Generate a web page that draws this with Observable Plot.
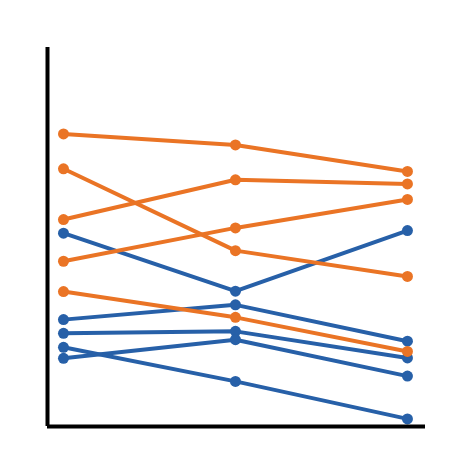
<!DOCTYPE html>
<html>
<head>
<meta charset="utf-8">
<script src="https://cdn.jsdelivr.net/npm/d3@7"></script>
<script src="https://cdn.jsdelivr.net/npm/@observablehq/plot@0.6"></script>
<style>
  html, body { margin: 0; padding: 0; background: #fff; }
</style>
</head>
<body>
<div id="chart"></div>
<script>
const periods = [0, 1, 2];
const seriesNames = ["A", "B", "C", "D", "E", "F", "G", "H", "I", "J"];
const seriesGroup = ["Group 1", "Group 1", "Group 1", "Group 1", "Group 1", "Group 2", "Group 2", "Group 2", "Group 2", "Group 2"];
const seriesValues = [
  [77.2, 74.3, 67.3],
  [68.0, 46.4, 39.6],
  [54.6, 65.1, 64.0],
  [43.6, 52.4, 59.9],
  [35.6, 28.8, 19.8],
  [51.0, 35.7, 51.7],
  [28.2, 32.1, 22.5],
  [24.6, 25.1, 18.1],
  [18.0, 22.9, 13.3],
  [20.9, 11.9, 2.0]
];
const groupNames = ["Group 1", "Group 2"];
const groupColors = ["#EA7425", "#2760A8"];
const xDomain = [-0.093, 2.105];
const yDomain = [0, 100];

// Blue series first so orange is drawn on top, as in the reference
const data = seriesNames.flatMap((name, i) =>
  periods.map((p, j) => ({ series: name, group: seriesGroup[i], period: p, value: seriesValues[i][j] }))
).sort((a, b) => d3.descending(a.group, b.group));

const chart = Plot.plot({
  width: 474,
  height: 474,
  marginLeft: 47,
  marginRight: 49,
  marginTop: 47,
  marginBottom: 48,
  x: { domain: xDomain, axis: null },
  y: { domain: yDomain, axis: null },
  color: { type: "ordinal", domain: groupNames, range: groupColors },
  marks: [
    Plot.lineY(data, { x: "period", y: "value", z: "series", stroke: "group", strokeWidth: 4 }),
    Plot.dot(data, { x: "period", y: "value", fill: "group", r: 5.5 }),
    Plot.ruleX([xDomain[0]], { stroke: "black", strokeWidth: 4 }),
    Plot.ruleY([yDomain[0]], { stroke: "black", strokeWidth: 4 })
  ]
});
document.getElementById("chart").appendChild(chart);
</script>
</body>
</html>
